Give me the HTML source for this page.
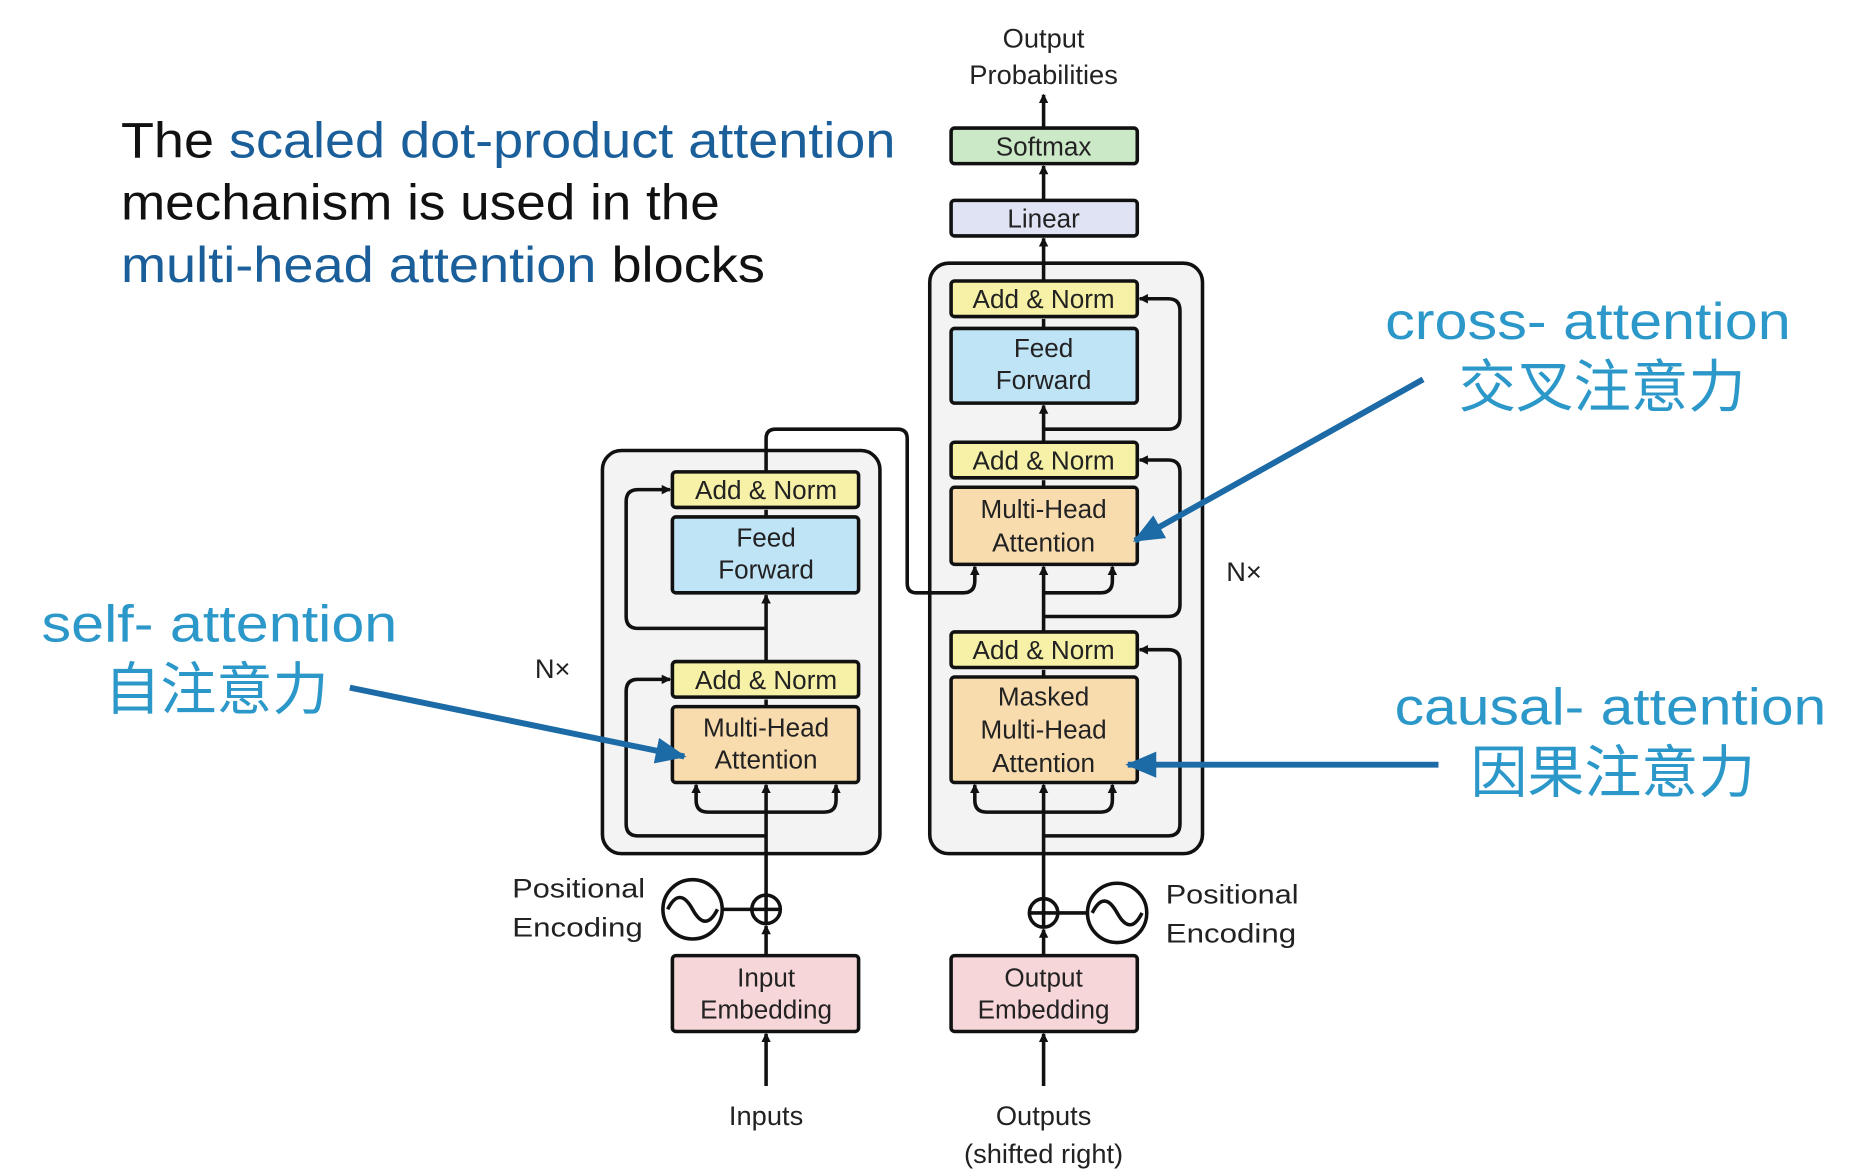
<!DOCTYPE html>
<html><head><meta charset="utf-8"><style>
html,body{margin:0;padding:0;background:#fff;}
svg{display:block;}
text{font-family:"Liberation Sans","Noto Sans CJK SC",sans-serif;}
</style></head><body>
<svg width="1850" height="1169" viewBox="0 0 1560 986" preserveAspectRatio="none" xmlns="http://www.w3.org/2000/svg">
<defs>
<marker id="ah" markerWidth="8" markerHeight="8" refX="7" refY="4" orient="auto" markerUnits="userSpaceOnUse"><path d="M0,0 L8,4 L0,8 z" fill="#111"/></marker>
<marker id="bh" markerWidth="26" markerHeight="22" refX="24" refY="11" orient="auto" markerUnits="userSpaceOnUse"><path d="M0,0 L26,11 L0,22 z" fill="#1c6aa6"/></marker>
</defs>
<rect width="1560" height="986" fill="#fff"/>
<!-- title -->
<text x="102" y="133" font-size="42" fill="#111" textLength="653" lengthAdjust="spacingAndGlyphs">The <tspan fill="#1a5e9a">scaled dot-product attention</tspan></text>
<text x="102" y="185" font-size="42" fill="#111" textLength="505" lengthAdjust="spacingAndGlyphs">mechanism is used in the</text>
<text x="102" y="238" font-size="42" fill="#1a5e9a" textLength="543" lengthAdjust="spacingAndGlyphs">multi-head attention <tspan fill="#111">blocks</tspan></text>

<!-- big boxes -->
<rect x="508" y="380" width="234" height="340" rx="16" fill="#f3f3f3" stroke="#111" stroke-width="3"/>
<rect x="784" y="222" width="230" height="498" rx="16" fill="#f3f3f3" stroke="#111" stroke-width="3"/>

<g fill="none" stroke="#111" stroke-width="3">
<line x1="646" y1="916" x2="646" y2="872" marker-end="url(#ah)"/>
<line x1="646" y1="806" x2="646" y2="781" marker-end="url(#ah)"/>
<line x1="646" y1="755" x2="646" y2="662" marker-end="url(#ah)"/>
<path d="M646,685 H597 Q587,685 587,675 V662" marker-end="url(#ah)"/>
<path d="M646,685 H695 Q705,685 705,675 V662" marker-end="url(#ah)"/>
<line x1="646" y1="596" x2="646" y2="590"/>
<line x1="646" y1="558" x2="646" y2="502" marker-end="url(#ah)"/>
<line x1="646" y1="436" x2="646" y2="430"/>
<path d="M646,705 H538 Q528,705 528,695 V583 Q528,573 538,573 H565" marker-end="url(#ah)"/>
<path d="M646,530 H538 Q528,530 528,520 V423 Q528,413 538,413 H565" marker-end="url(#ah)"/>
<path d="M646,398 V370 Q646,362 654,362 H757 Q765,362 765,370 V492 Q765,500 773,500 H812 Q822,500 822,490 V478" marker-end="url(#ah)"/>
<line x1="880" y1="916" x2="880" y2="872" marker-end="url(#ah)"/>
<line x1="880" y1="806" x2="880" y2="784" marker-end="url(#ah)"/>
<line x1="880" y1="758" x2="880" y2="662" marker-end="url(#ah)"/>
<path d="M880,685 H832 Q822,685 822,675 V662" marker-end="url(#ah)"/>
<path d="M880,685 H928 Q938,685 938,675 V662" marker-end="url(#ah)"/>
<path d="M880,705 H985 Q995,705 995,695 V558 Q995,548 985,548 H961" marker-end="url(#ah)"/>
<line x1="880" y1="571" x2="880" y2="565"/>
<line x1="880" y1="533" x2="880" y2="478" marker-end="url(#ah)"/>
<path d="M880,500 H928 Q938,500 938,490 V478" marker-end="url(#ah)"/>
<path d="M880,520 H985 Q995,520 995,510 V398 Q995,388 985,388 H961" marker-end="url(#ah)"/>
<line x1="880" y1="411" x2="880" y2="405"/>
<line x1="880" y1="373" x2="880" y2="342" marker-end="url(#ah)"/>
<path d="M880,362 H985 Q995,362 995,352 V262 Q995,252 985,252 H961" marker-end="url(#ah)"/>
<line x1="880" y1="277" x2="880" y2="269"/>
<line x1="880" y1="237" x2="880" y2="201" marker-end="url(#ah)"/>
<line x1="880" y1="169" x2="880" y2="140" marker-end="url(#ah)"/>
<line x1="880" y1="108" x2="880" y2="80" marker-end="url(#ah)"/>
<line x1="609" y1="767" x2="634" y2="767"/>
<circle cx="646" cy="767" r="12"/><line x1="634" y1="767" x2="658" y2="767"/><line x1="646" y1="755" x2="646" y2="779"/>
<circle cx="584" cy="767" r="25"/>
<path d="M563,767 Q573,747 584,767 Q595,787 605,767"/>
<line x1="892" y1="770" x2="917" y2="770"/>
<circle cx="880" cy="770" r="12"/><line x1="868" y1="770" x2="892" y2="770"/><line x1="880" y1="758" x2="880" y2="782"/>
<circle cx="942" cy="770" r="25"/>
<path d="M921,770 Q931,750 942,770 Q953,790 963,770"/>
</g>

<g stroke="#111" stroke-width="3">
<rect x="567" y="398" width="157" height="30" rx="3" fill="#f6f1a6"/>
<rect x="567" y="436" width="157" height="64" rx="3" fill="#bfe4f6"/>
<rect x="567" y="558" width="157" height="30" rx="3" fill="#f6f1a6"/>
<rect x="567" y="596" width="157" height="64" rx="3" fill="#f9dcae"/>
<rect x="802" y="108" width="157" height="30" rx="3" fill="#cbe9c6"/>
<rect x="802" y="169" width="157" height="30" rx="3" fill="#e0e3f3"/>
<rect x="802" y="237" width="157" height="30" rx="3" fill="#f6f1a6"/>
<rect x="802" y="277" width="157" height="63" rx="3" fill="#bfe4f6"/>
<rect x="802" y="373" width="157" height="30" rx="3" fill="#f6f1a6"/>
<rect x="802" y="411" width="157" height="65" rx="3" fill="#f9dcae"/>
<rect x="802" y="533" width="157" height="30" rx="3" fill="#f6f1a6"/>
<rect x="802" y="571" width="157" height="89" rx="3" fill="#f9dcae"/>
<rect x="567" y="806" width="157" height="64" rx="3" fill="#f7d6d9"/>
<rect x="802" y="806" width="157" height="64" rx="3" fill="#f7d6d9"/>
</g>

<g font-size="22" fill="#222" text-anchor="middle">
<text x="646" y="421">Add &amp; Norm</text>
<text x="646" y="461">Feed</text><text x="646" y="488">Forward</text>
<text x="646" y="581">Add &amp; Norm</text>
<text x="646" y="621">Multi-Head</text><text x="646" y="648">Attention</text>
<text x="880" y="131">Softmax</text>
<text x="880" y="192">Linear</text>
<text x="880" y="260">Add &amp; Norm</text>
<text x="880" y="301">Feed</text><text x="880" y="328">Forward</text>
<text x="880" y="396">Add &amp; Norm</text>
<text x="880" y="437">Multi-Head</text><text x="880" y="465">Attention</text>
<text x="880" y="556">Add &amp; Norm</text>
<text x="880" y="595">Masked</text><text x="880" y="623">Multi-Head</text><text x="880" y="651">Attention</text>
<text x="646" y="832">Input</text><text x="646" y="859">Embedding</text>
<text x="880" y="832">Output</text><text x="880" y="859">Embedding</text>
<text x="880" y="40" font-size="23">Output</text><text x="880" y="71" font-size="23">Probabilities</text>
<text x="646" y="949" font-size="23">Inputs</text>
<text x="880" y="949" font-size="23">Outputs</text><text x="880" y="981" font-size="23">(shifted right)</text>
</g>
<g font-size="23" fill="#222">
<text x="432" y="757" textLength="112" lengthAdjust="spacingAndGlyphs">Positional</text><text x="432" y="790" textLength="110" lengthAdjust="spacingAndGlyphs">Encoding</text>
<text x="983" y="762" textLength="112" lengthAdjust="spacingAndGlyphs">Positional</text><text x="983" y="795" textLength="110" lengthAdjust="spacingAndGlyphs">Encoding</text>
<text x="451" y="572">N×</text>
<text x="1034" y="490">N×</text>
</g>

<g fill="#2b98c9" font-size="44">
<text x="35" y="541" textLength="300" lengthAdjust="spacingAndGlyphs">self- attention</text>
<text x="88" y="598" font-size="48" textLength="189" lengthAdjust="spacingAndGlyphs">自注意力</text>
<text x="1168" y="286" textLength="342" lengthAdjust="spacingAndGlyphs">cross- attention</text>
<text x="1230" y="343" font-size="48" textLength="242" lengthAdjust="spacingAndGlyphs">交叉注意力</text>
<text x="1176" y="611" textLength="364" lengthAdjust="spacingAndGlyphs">causal- attention</text>
<text x="1240" y="668" font-size="48" textLength="240" lengthAdjust="spacingAndGlyphs">因果注意力</text>
</g>
<g stroke="#1c6aa6" stroke-width="5" fill="none">
<line x1="295" y1="580" x2="577" y2="638" marker-end="url(#bh)"/>
<line x1="1200" y1="320" x2="957" y2="456" marker-end="url(#bh)"/>
<line x1="1213" y1="645" x2="951" y2="645" marker-end="url(#bh)"/>
</g>
</svg>
</body></html>
